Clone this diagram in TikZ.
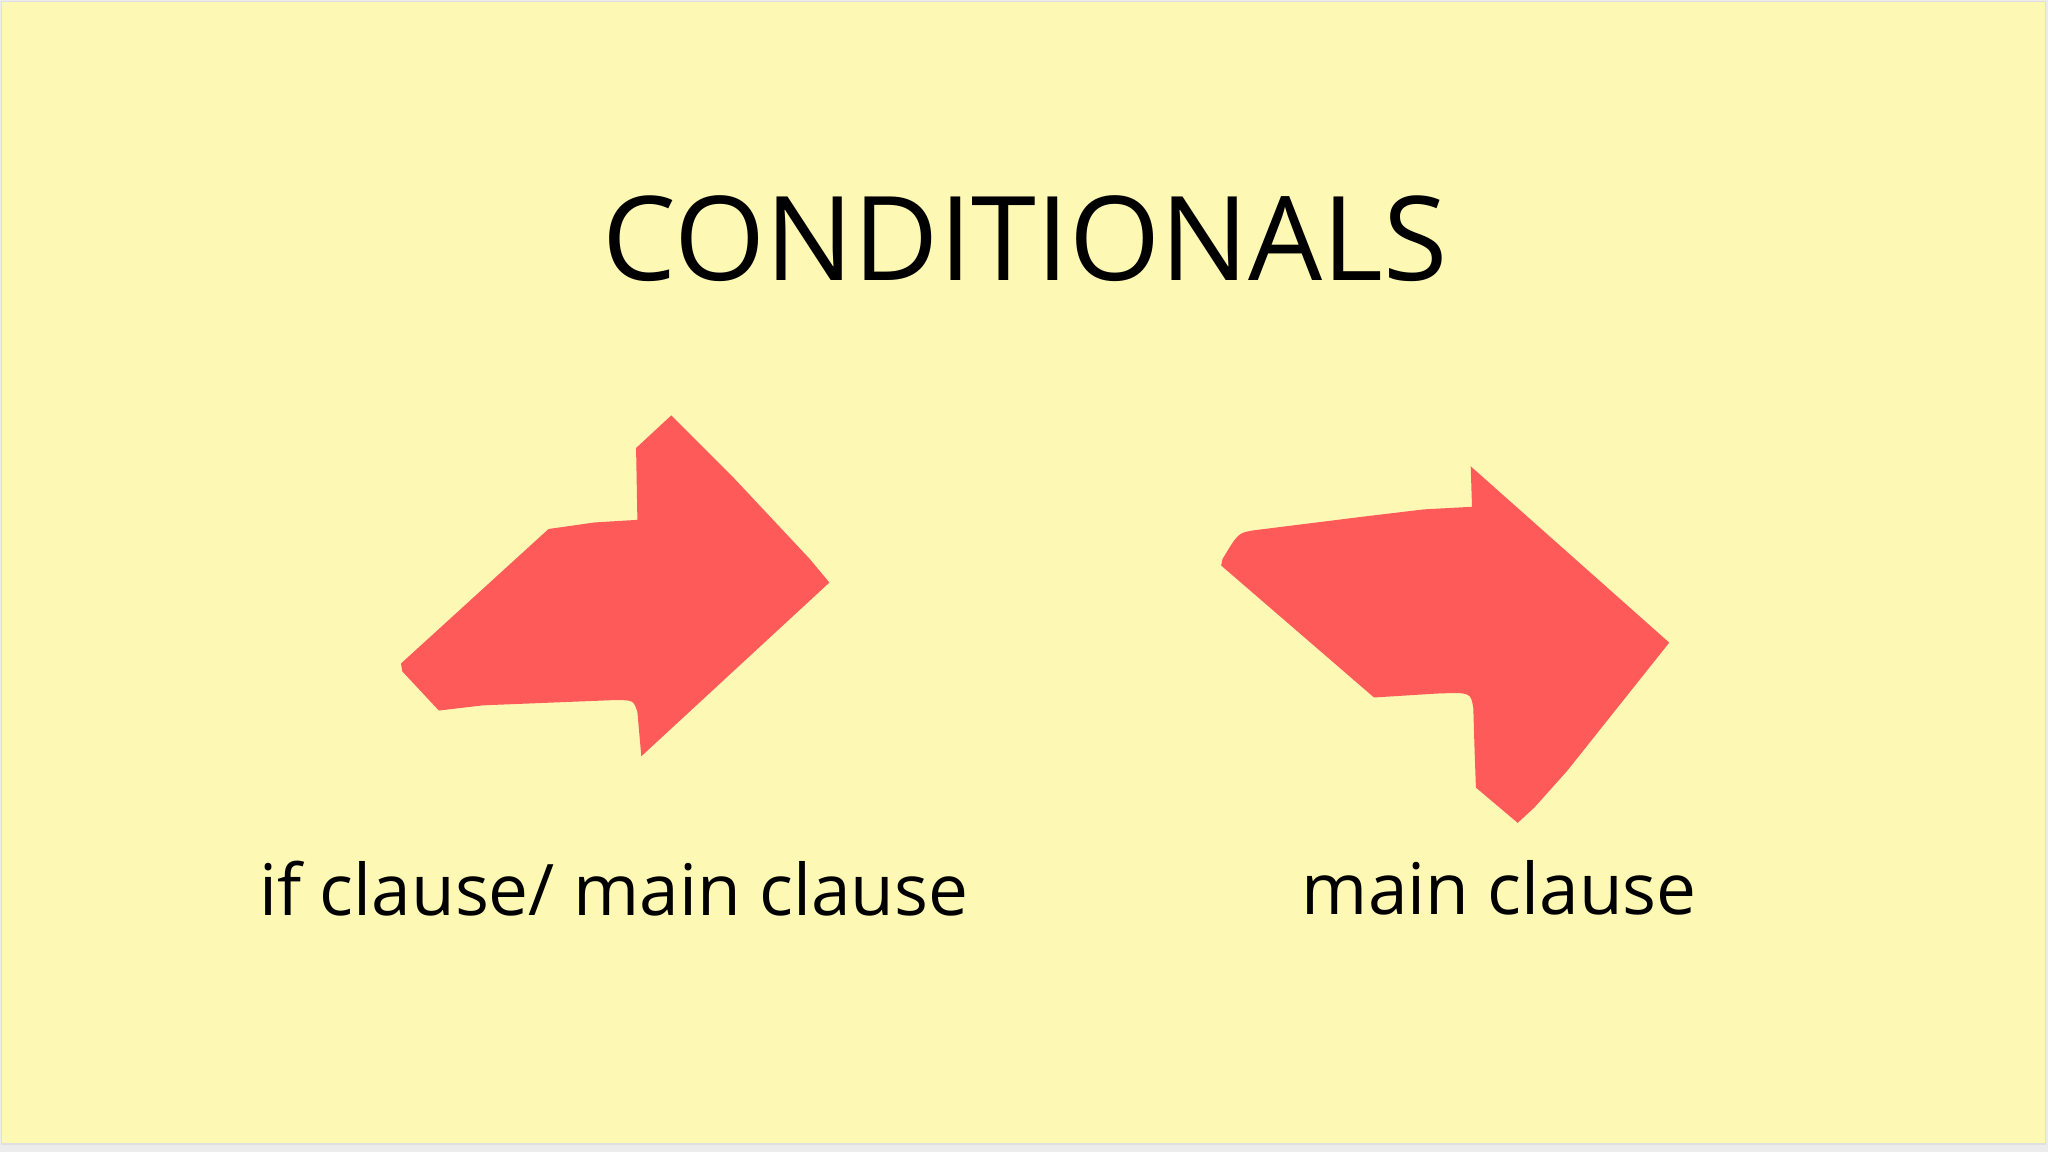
\documentclass[tikz,border=0pt]{standalone}
\usepackage{fontspec}
\setmainfont{Open Sans}
\definecolor{bg}{HTML}{FDF8B4}
\definecolor{arr}{HTML}{FF5A5A}
\begin{document}
\begin{tikzpicture}[x=0.1mm,y=-0.1mm,
  blob/.style={fill=arr,draw=none},
  lbl/.style={font=\fontsize{15.5}{18}\selectfont,inner sep=0pt}]
\useasboundingbox (0,0) rectangle (1568,882);
\fill[gray!15] (0,0) rectangle (1568,882);
\fill[bg,draw=gray!25,line width=0.3pt] (1,1) rectangle (1566,876);
\node[font=\fontsize{25.5}{30}\selectfont,inner sep=0pt] (title) at (785,183) {CONDITIONALS};
\path[blob] (514,318) -- (487,343) -- (488,398) -- (455,400) -- (420,405) -- (307,508) -- (308,514) -- (336,544) -- (370,540) -- (420,538) -- (470,536) .. controls (485,536) .. (488,545) -- (491,579) -- (635,446) -- (620,428) -- (560,364) -- cycle;
\path[blob] (1126,357) -- (1127,388) -- (1090,390) -- (1040,396) -- (960,406) .. controls (948,408) .. (936,428) -- (935,433) -- (1052,534) -- (1100,531) .. controls (1126,530) .. (1128,542) -- (1129,575) -- (1130,603) -- (1162,630) -- (1175,618) -- (1200,590) -- (1278,492) -- cycle;
\node[lbl] (l1) at (470,680) {if clause/ main clause};
\node[lbl] (l2) at (1148,680) {main clause};
\end{tikzpicture}
\end{document}
